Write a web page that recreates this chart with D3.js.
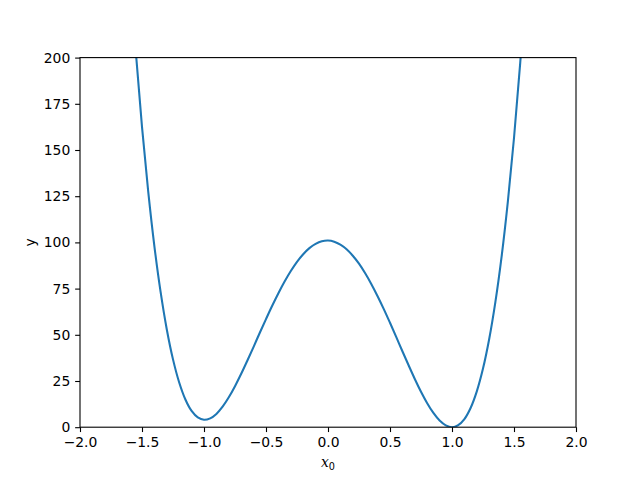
<!DOCTYPE html>
<html>
<head>
<meta charset="utf-8">
<script src="https://cdn.jsdelivr.net/npm/d3@7"></script>
<style>
  body { margin: 0; background: #fff; }
  text { font-family: "DejaVu Sans", sans-serif; }
</style>
</head>
<body>
<svg id="chart" width="640" height="480"></svg>
<script>
// values
var xs = [-1.60, -1.55, -1.50, -1.45, -1.40, -1.35, -1.30, -1.25, -1.20, -1.15, -1.10, -1.05,
          -1.00, -0.95, -0.90, -0.85, -0.80, -0.75, -0.70, -0.65, -0.60, -0.55, -0.50, -0.45,
          -0.40, -0.35, -0.30, -0.25, -0.20, -0.15, -0.10, -0.05, 0.00, 0.05, 0.10, 0.15,
          0.20, 0.25, 0.30, 0.35, 0.40, 0.45, 0.50, 0.55, 0.60, 0.65, 0.70, 0.75,
          0.80, 0.85, 0.90, 0.95, 1.00, 1.05, 1.10, 1.15, 1.20, 1.25, 1.30, 1.35,
          1.40, 1.45, 1.50, 1.55, 1.60];
var ys = [250.1, 203.2, 162.5, 127.6, 97.9, 73.2, 52.9, 36.7, 24.2, 15.0, 8.8, 5.3,
          4.0, 4.8, 7.2, 11.1, 16.2, 22.2, 28.9, 36.1, 43.5, 51.1, 58.5, 65.7,
          72.5, 78.8, 84.5, 89.5, 93.6, 96.9, 99.2, 100.6, 101.0, 100.4, 98.8, 96.3,
          92.8, 88.5, 83.3, 77.4, 70.9, 63.9, 56.5, 48.9, 41.1, 33.5, 26.1, 19.2,
          13.0, 7.7, 3.6, 1.0, 0.0, 1.1, 4.4, 10.4, 19.4, 31.7, 47.7, 67.8,
          92.3, 121.8, 156.5, 197.0, 243.7];
var xTicks = [-2.0, -1.5, -1.0, -0.5, 0.0, 0.5, 1.0, 1.5, 2.0];
var yTicks = [0, 25, 50, 75, 100, 125, 150, 175, 200];

var L = 80, R = 576, T = 57.6, B = 427.2;
var svg = d3.select("#chart");

var x = d3.scaleLinear().domain([-2, 2]).range([L, R]);
var y = d3.scaleLinear().domain([0, 200]).range([B, T]);

svg.append("clipPath").attr("id", "clip")
    .append("rect").attr("x", L).attr("y", T).attr("width", R - L).attr("height", B - T);

var line = d3.line()
    .x(function(d, i){ return x(xs[i]); })
    .y(function(d, i){ return y(ys[i]); })
    .curve(d3.curveCatmullRom);

svg.append("path")
    .datum(xs)
    .attr("clip-path", "url(#clip)")
    .attr("d", line)
    .attr("fill", "none")
    .attr("stroke", "#1f77b4")
    .attr("stroke-width", 2.08)
    .attr("stroke-linejoin", "round")
    .attr("stroke-linecap", "square");

var xAxis = svg.append("g").attr("transform", "translate(0," + B + ")")
    .call(d3.axisBottom(x).tickValues(xTicks).tickFormat(d3.format(".1f")).tickSizeOuter(0).tickSize(4.86).tickPadding(4.86));
var yAxis = svg.append("g").attr("transform", "translate(" + L + ",0)")
    .call(d3.axisLeft(y).tickValues(yTicks).tickFormat(d3.format("d")).tickSizeOuter(0).tickSize(4.86).tickPadding(4.86));

[xAxis, yAxis].forEach(function(g){
    g.select(".domain").remove();
    g.selectAll(".tick line").attr("stroke", "#000").attr("stroke-width", 1.1);
    g.selectAll(".tick text").attr("fill", "#000")
        .style("font-family", "DejaVu Sans").style("font-size", "13.9px");
});
xAxis.selectAll(".tick text").text(function(d){ return d3.format(".1f")(d).replace("-", "\u2212"); });

// frame
svg.append("rect").attr("x", L).attr("y", T).attr("width", R - L).attr("height", B - T)
    .attr("fill", "none").attr("stroke", "#000").attr("stroke-width", 1.1);

// labels
var xl = svg.append("text").attr("x", (L + R) / 2).attr("y", 467)
    .attr("text-anchor", "middle").style("font-size", "13.9px");
xl.append("tspan").style("font-family", "DejaVu Serif").style("font-style", "italic").text("x");
xl.append("tspan").attr("dy", 3).style("font-size", "9.7px").text("0");

svg.append("text")
    .attr("transform", "translate(35," + ((T + B) / 2) + ") rotate(-90)")
    .attr("text-anchor", "middle").style("font-size", "13.9px").text("y");
</script>
</body>
</html>
